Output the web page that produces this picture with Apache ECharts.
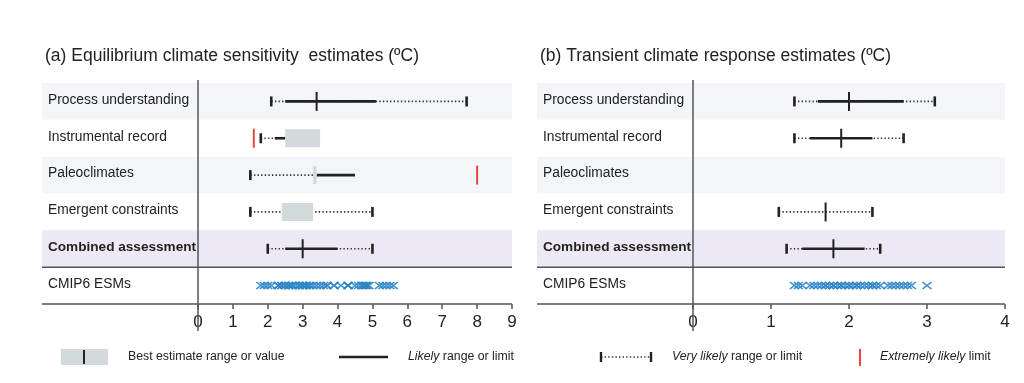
<!DOCTYPE html>
<html><head><meta charset="utf-8">
<script src="https://cdn.jsdelivr.net/npm/echarts@6/dist/echarts.min.js"></script>
<style>html,body{margin:0;padding:0;background:#fff}#c{width:1024px;height:383px}</style>
</head><body><div id="c"></div>
<script>
// ---------- data ----------
const rows = ['Process understanding','Instrumental record','Paleoclimates','Emergent constraints','Combined assessment','CMIP6 ESMs'];
const ecsTicks = [0,1,2,3,4,5,6,7,8,9];
const tcrTicks = [0,1,2,3,4];

// [low, high, row]
const ecsVeryLikelyDotted = [[2.1,7.7,0],[1.8,2.2,1],[1.5,3.3,2],[1.5,5.0,3],[2.0,5.0,4]];
// [value, row]
const ecsVeryLikelyCaps = [[2.1,0],[7.7,0],[1.8,1],[1.5,2],[1.5,3],[5.0,3],[2.0,4],[5.0,4]];
const ecsLikely = [[2.5,5.1,0],[2.2,2.5,1],[3.4,4.5,2],[2.5,4.0,4]];
const ecsBestRange = [[2.5,3.5,1],[3.3,3.4,2],[2.4,3.3,3]];
const ecsBestValue = [[3.4,0],[3.0,4]];
const ecsExtremelyLikely = [[1.6,1],[8.0,2]];
const ecsCmip6 = [1.8,1.9,2.0,2.1,2.3,2.3,2.4,2.4,2.5,2.5,2.6,2.6,2.7,2.7,2.7,2.8,2.9,2.9,3.0,3.0,3.0,3.0,3.1,3.1,3.1,3.2,3.2,
  3.3,3.4,3.5,3.6,3.7,3.7,3.9,3.9,4.1,4.3,4.3,4.3,4.5,4.6,4.7,4.7,4.75,4.8,4.8,4.85,4.9,5.2,5.3,5.4,5.5,5.6];

const tcrVeryLikelyDotted = [[1.3,3.1,0],[1.3,2.7,1],[1.1,2.3,3],[1.2,2.4,4]];
const tcrVeryLikelyCaps = [[1.3,0],[3.1,0],[1.3,1],[2.7,1],[1.1,3],[2.3,3],[1.2,4],[2.4,4]];
const tcrLikely = [[1.6,2.7,0],[1.5,2.3,1],[1.4,2.2,4]];
const tcrBestValue = [[2.0,0],[1.9,1],[1.7,3],[1.8,4]];
const tcrCmip6 = [1.3,1.35,1.4,1.5,1.55,1.6,1.65,1.7,1.7,1.75,1.8,1.8,1.85,1.9,1.9,1.95,2.0,2.0,2.05,2.1,2.1,2.15,2.2,
  2.25,2.3,2.3,2.35,2.4,2.5,2.55,2.6,2.65,2.7,2.75,2.8,3.0];

// ---------- styling ----------
const FONT = "'Liberation Sans',Arial,sans-serif";
const bandColors = ['#f3f5f9','#ffffff','#f3f5f9','#ffffff','#ede9f4','#ffffff'];
const labelArea = 156;
const ink = '#222';
const blue = '#2f86c9';
const red = '#e8473e';
const grey = '#d2dadc';

function segRender(style){
  return function(params, api){
    const a = api.coord([api.value(0), api.value(2)]);
    const b = api.coord([api.value(1), api.value(2)]);
    return {type:'line', shape:{x1:a[0],y1:a[1],x2:b[0],y2:b[1]}, style:style};
  };
}
function boxRender(h){
  return function(params, api){
    const a = api.coord([api.value(0), api.value(2)]);
    const b = api.coord([api.value(1), api.value(2)]);
    return {type:'rect', shape:{x:a[0], y:a[1]-h/2, width:b[0]-a[0], height:h}, style:{fill:grey}};
  };
}
function tickRender(h, style){
  return function(params, api){
    const c = api.coord([api.value(0), api.value(1)]);
    return {type:'line', shape:{x1:c[0],y1:c[1]-h/2,x2:c[0],y2:c[1]+h/2}, style:style};
  };
}
function bandRender(params, api){
  const i = api.value(1);
  const c = api.coord([0, i]);
  const h = api.size([0,1])[1];
  const cs = params.coordSys;
  return {type:'rect', shape:{x:cs.x-labelArea, y:c[1]-h/2, width:cs.width+labelArea, height:h}, style:{fill:bandColors[i]}};
}
function frameRender(params, api){
  const cs = params.coordSys;
  const x0 = api.coord([0, 0])[0];
  const y4 = api.coord([0, 4])[1], y5 = api.coord([0, 5])[1];
  const ySep = (y4 + y5) / 2;
  const yBot = cs.y + cs.height;
  const st = {stroke:'#555', lineWidth:1.5};
  return {type:'group', children:[
    {type:'line', shape:{x1:cs.x-labelArea, y1:ySep, x2:cs.x+cs.width, y2:ySep}, style:st},
    {type:'line', shape:{x1:cs.x-labelArea, y1:yBot, x2:cs.x+cs.width, y2:yBot}, style:st},
    {type:'line', shape:{x1:x0, y1:cs.y-3, x2:x0, y2:yBot+27}, style:st}
  ]};
}

function panelSeries(p, d){
  const ax = {xAxisIndex:p, yAxisIndex:p};
  const S = [];
  S.push(Object.assign({type:'custom', renderItem:bandRender, data:rows.map((r,i)=>[0,i]), encode:{x:0,y:1}, z:0, silent:true}, ax));
  S.push(Object.assign({type:'custom', renderItem:segRender({stroke:'#333', lineWidth:1.6, lineDash:[1.4,2.2]}), data:d.dotted, encode:{x:[0,1],y:2}, z:2}, ax));
  S.push(Object.assign({type:'custom', renderItem:segRender({stroke:ink, lineWidth:2.6}), data:d.likely, encode:{x:[0,1],y:2}, z:3}, ax));
  S.push(Object.assign({type:'custom', renderItem:boxRender(18), data:d.box, encode:{x:[0,1],y:2}, z:4}, ax));
  S.push(Object.assign({type:'custom', renderItem:tickRender(10,{stroke:ink, lineWidth:2.6}), data:d.caps, encode:{x:0,y:1}, z:5}, ax));
  S.push(Object.assign({type:'custom', renderItem:tickRender(19,{stroke:ink, lineWidth:2}), data:d.best, encode:{x:0,y:1}, z:5}, ax));
  S.push(Object.assign({type:'custom', renderItem:tickRender(19,{stroke:red, lineWidth:2}), data:d.extreme, encode:{x:0,y:1}, z:5}, ax));
  S.push(Object.assign({type:'scatter', symbol:'path://M0,0L10,10M10,0L0,10', symbolSize:[9,7], symbolKeepAspect:false,
    itemStyle:{color:'none', borderColor:blue, borderWidth:1.5, opacity:0.9}, data:d.cmip.map(v=>[v,5]), z:6}, ax));
  S.push(Object.assign({type:'custom', renderItem:frameRender, data:[[0,0]], encode:{x:0,y:1}, z:7, silent:true}, ax));
  return S;
}

function xAxisFor(ticks, gi){
  return {type:'value', gridIndex:gi, min:ticks[0], max:ticks[ticks.length-1], interval:1,
    axisLine:{show:false}, splitLine:{show:false},
    axisTick:{show:true, length:5, lineStyle:{color:'#555', width:1.5}},
    axisLabel:{fontFamily:FONT, fontSize:17, color:ink, margin:10}};
}
function yAxisFor(gi){
  return {type:'category', gridIndex:gi, data:rows, inverse:true,
    axisLine:{show:false}, axisTick:{show:false}, splitLine:{show:false},
    axisLabel:{align:'left', margin:150, fontFamily:FONT, fontSize:13.8, color:ink, padding:[0,0,3,0],
      formatter: v => v === 'Combined assessment' ? '{b|' + v + '}' : v,
      rich:{b:{fontWeight:'bold', fontFamily:FONT, fontSize:13.6, color:ink}}}};
}

const chart = echarts.init(document.getElementById('c'), null, {renderer:'canvas'});
const legendFont = '12.3px ' + FONT;
const italicRich = {i:{fontStyle:'italic', fontFamily:FONT, fontSize:12.3, fill:ink}};
chart.setOption({
  backgroundColor:'#fff',
  animation:false,
  title:[
    {text:'(a) Equilibrium climate sensitivity  estimates (ºC)', left:40, top:42, textStyle:{fontFamily:FONT, fontSize:17.5, fontWeight:'normal', color:ink}},
    {text:'(b) Transient climate response estimates (ºC)', left:535, top:42, textStyle:{fontFamily:FONT, fontSize:17.5, fontWeight:'normal', color:ink}}
  ],
  grid:[
    {left:198, width:314, top:83, height:221},
    {left:693, width:312, top:83, height:221}
  ],
  xAxis:[xAxisFor(ecsTicks,0), xAxisFor(tcrTicks,1)],
  yAxis:[yAxisFor(0), yAxisFor(1)],
  series: panelSeries(0, {dotted:ecsVeryLikelyDotted, likely:ecsLikely, box:ecsBestRange, caps:ecsVeryLikelyCaps,
      best:ecsBestValue, extreme:ecsExtremelyLikely, cmip:ecsCmip6})
    .concat(panelSeries(1, {dotted:tcrVeryLikelyDotted, likely:tcrLikely, box:[], caps:tcrVeryLikelyCaps,
      best:tcrBestValue, extreme:[], cmip:tcrCmip6})),
  graphic:[
    {type:'rect', shape:{x:61, y:349, width:47, height:16}, style:{fill:grey}},
    {type:'line', shape:{x1:84, y1:350, x2:84, y2:364}, style:{stroke:ink, lineWidth:2}},
    {type:'text', x:128, y:357, style:{text:'Best estimate range or value', font:legendFont, fill:ink, verticalAlign:'middle'}},
    {type:'line', shape:{x1:339, y1:357, x2:388, y2:357}, style:{stroke:ink, lineWidth:2.6}},
    {type:'text', x:408, y:357, style:{text:'{i|Likely} range or limit', font:legendFont, fill:ink, verticalAlign:'middle', rich:italicRich}},
    {type:'line', shape:{x1:601, y1:357, x2:651, y2:357}, style:{stroke:'#333', lineWidth:1.6, lineDash:[1.4,2.2]}},
    {type:'line', shape:{x1:601, y1:352, x2:601, y2:362}, style:{stroke:ink, lineWidth:2.4}},
    {type:'line', shape:{x1:651, y1:352, x2:651, y2:362}, style:{stroke:ink, lineWidth:2.4}},
    {type:'text', x:672, y:357, style:{text:'{i|Very likely} range or limit', font:legendFont, fill:ink, verticalAlign:'middle', rich:italicRich}},
    {type:'line', shape:{x1:860, y1:349, x2:860, y2:366}, style:{stroke:red, lineWidth:2}},
    {type:'text', x:880, y:357, style:{text:'{i|Extremely likely} limit', font:legendFont, fill:ink, verticalAlign:'middle', rich:italicRich}}
  ]
});
</script></body></html>
